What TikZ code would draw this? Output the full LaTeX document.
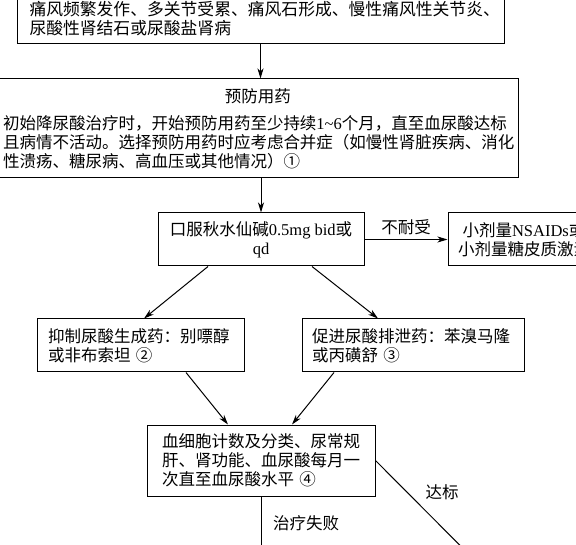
\documentclass[tikz,border=0pt]{standalone}
\usepackage{fontspec}
\setmainfont{Noto Sans CJK SC}
\newfontfamily\lat{Liberation Serif}
\usetikzlibrary{arrows.meta}
\newcommand\fs{\fontsize{16.5}{19}\selectfont}
\newcommand\fst{\fontsize{16.8}{19}\selectfont}
\tikzset{
  boxnode/.style={draw=black, line width=1pt, inner ysep=2pt, font=\fs, align=left},
  arr/.style={-{Stealth[length=10pt,width=6pt,inset=3pt]}, line width=1pt},
  lbl/.style={font=\fs, inner sep=0pt}
}
\begin{document}
\begin{tikzpicture}[x=1pt,y=-1pt]
\useasboundingbox (0,0) rectangle (576,545);
\node[boxnode, font=\fst, text width=462pt, inner xsep=12.5pt, minimum height=51pt] (top) at (260.5,18.5)
  {痛风频繁发作、多关节受累、痛风石形成、慢性痛风性关节炎、\\尿酸性肾结石或尿酸盐肾病};
\node[boxnode, text width=510pt, inner xsep=5pt, minimum height=99pt] (prev) at (258,128.5)
  {\makebox[510pt]{预防用药}\\[8pt]初始降尿酸治疗时，开始预防用药至少持续{\lat 1\textasciitilde 6}个月，直至血尿酸达标\\且病情不活动。选择预防用药时应考虑合并症（如慢性肾脏疾病、消化\\性溃疡、糖尿病、高血压或其他情况）①};
\node[boxnode, align=center, minimum width=206pt, minimum height=53pt] (colch) at (261,239.5)
  {口服秋水仙碱{\lat 0.5mg bid}或\\{\lat qd}};
\node[boxnode, align=center, minimum width=152pt, minimum height=53pt] (nsaid) at (524,239.5)
  {小剂量{\lat NSAIDs}或\\小剂量糖皮质激素};
\node[boxnode, text width=185pt, inner xsep=11pt, minimum height=53pt] (yz) at (140.5,345.5)
  {抑制尿酸生成药：别嘌醇\\或非布索坦 ②};
\node[boxnode, text width=202pt, inner xsep=10pt, minimum height=53pt] (cj) at (413,345.5)
  {促进尿酸排泄药：苯溴马隆\\或丙磺舒 ③};
\node[boxnode, text width=198pt, inner xsep=15pt, minimum height=71pt] (bt) at (261,460.5)
  {血细胞计数及分类、尿常规\\肝、肾功能、血尿酸每月一\\次直至血尿酸水平 ④};
\coordinate (d1) at (261,572);
\coordinate (d2) at (482,567.5);
\draw[arr] (top.south) -- (top.south |- prev.north);
\draw[arr] (prev.south -| colch.north) -- (colch.north);
\draw[arr] (colch.east) -- node[lbl, above=4pt] (nt) {不耐受} (nsaid.west);
\draw[arr] ([xshift=-53pt]colch.south) -- ([xshift=3.5pt]yz.north);
\draw[arr] ([xshift=51pt]colch.south) -- ([xshift=-35pt]cj.north);
\draw[arr] ([xshift=45.5pt]yz.south) -- ([xshift=-33pt]bt.north);
\draw[arr] ([xshift=-79pt]cj.south) -- ([xshift=31pt]bt.north);
\draw[arr] (bt.south) -- (d1);
\draw[arr] (bt.east) -- (d2);
\node[lbl, anchor=west] (fail) at (273,523) {治疗失败};
\node[lbl] (ok) at (442,492) {达标};
\end{tikzpicture}
\end{document}
